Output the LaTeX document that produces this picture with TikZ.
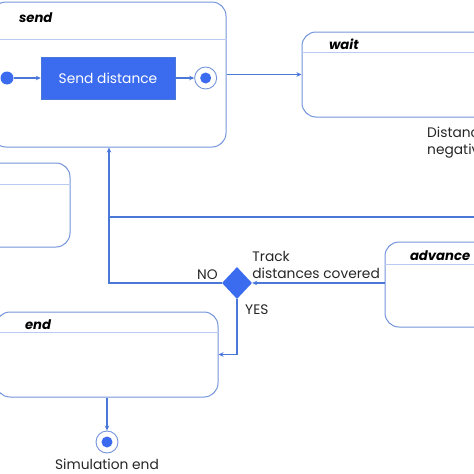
\documentclass[tikz,border=0pt]{standalone}
\usepackage{fontspec}
\setmainfont{Poppins}
\usetikzlibrary{arrows.meta, positioning, shapes.geometric}

\definecolor{umlblue}{HTML}{3B6CF0}
\definecolor{lineblue}{HTML}{4A78D8}
\definecolor{boxblue}{HTML}{7393DA}
\definecolor{headblue}{HTML}{BACAF0}

\begin{document}
\begin{tikzpicture}[x=1pt,y=-1pt,>={Stealth[length=5pt,width=4.5pt]},
                font=\fontsize{13.8}{17}\selectfont,
                state box/.style={draw=boxblue,line width=1pt,rounded corners=14pt,inner sep=0pt},
                head line/.style={draw=headblue,line width=0.8pt},
                title/.style={font=\fontsize{13.2}{15}\selectfont\bfseries\itshape,anchor=west},
                action/.style={rectangle,fill=umlblue,draw=lineblue,text=white,
                               minimum width=134pt,minimum height=42pt},
                start dot/.style={circle,fill=umlblue,minimum size=13pt,inner sep=0pt},
                end ring/.style={circle,draw=boxblue,line width=0.9pt,minimum size=22pt,inner sep=0pt},
                end dot/.style={circle,fill=umlblue,minimum size=11pt,inner sep=0pt},
                choice/.style={diamond,fill=umlblue,minimum width=30pt,minimum height=32pt,inner sep=0pt},
                flow/.style={->,draw=lineblue,line width=1.3pt},
                label/.style={text=black!85,inner sep=0pt}]

        \useasboundingbox (0,0) rectangle (474,474);
        \clip (0,0) rectangle (474,474);

        % states
        \node[state box,minimum width=234pt,minimum height=145pt] (send)    at (109,74.5)  {};
        \node[state box,minimum width=188pt,minimum height=85pt]  (wait)    at (396,74.5)  {};
        \node[state box,minimum width=100pt,minimum height=84pt]  (other)   at (20,205)    {};
        \node[state box,minimum width=110pt,minimum height=85pt]  (advance) at (440,284.5) {};
        \node[state box,minimum width=222pt,minimum height=85pt]  (endst)   at (107,354.5) {};

        \draw[head line] ([yshift=-38pt]send.north west)    -- ([yshift=-38pt]send.north east);
        \draw[head line] ([yshift=-21pt]wait.north west)    -- ([yshift=-21pt]wait.north east);
        \draw[head line] ([yshift=-22pt]other.north west)   -- ([yshift=-22pt]other.north east);
        \draw[head line] ([yshift=-23pt]advance.north west) -- ([yshift=-23pt]advance.north east);
        \draw[head line] ([yshift=-21pt]endst.north west)   -- ([yshift=-21pt]endst.north east);

        \node[title] at ([xshift=24pt,yshift=-16pt]send.north west)    {send};
        \node[title] at ([xshift=24pt,yshift=-13pt]wait.north west)    {wait};
        \node[title] at ([xshift=22pt,yshift=-14pt]advance.north west) {advance};
        \node[title] at ([xshift=26pt,yshift=-13pt]endst.north west)   {end};

        % inside send
        \node[action] (senddist) at (108,78) {Send distance};
        \node[start dot] (init) at (7,78) {};
        \node[end ring] (sendfin) [right=19pt of senddist] {};
        \node[end dot] at (sendfin) {};

        % choice and final
        \node[choice] (track) at (237,283) {};
        \node[end ring] (simfin) at (107,442) {};
        \node[end dot] at (simfin) {};
        \coordinate (offright) at (490,217);

        % labels
        \node[label,anchor=south east] at ([xshift=-4pt,yshift=3pt]track.west) {NO};
        \node[label,anchor=south west,align=left] at ([xshift=0pt,yshift=4pt]track.east)
            {Track\\distances covered};
        \node[label,anchor=north west] at ([xshift=8pt,yshift=-5pt]track.south) {YES};
        \node[label,anchor=north west,align=left] at (427,127) {Distance\\negative};
        \node[label] [below=5pt of simfin] {Simulation end};

        % transitions
        \draw[flow] (init) -- (senddist);
        \draw[flow] (senddist) -- (sendfin);
        \draw[flow] (send) -- (wait);
        \draw[flow] (advance.west |- track) -- (track.east);
        \draw[flow] (track.west) -| (send.south);
        \draw[lineblue,line width=1.3pt] (offright) -- (offright -| send.south);
        \draw[flow] (track.south) |- (endst.east);
        \draw[flow] (endst.south) -- (simfin);
\end{tikzpicture}
\end{document}
